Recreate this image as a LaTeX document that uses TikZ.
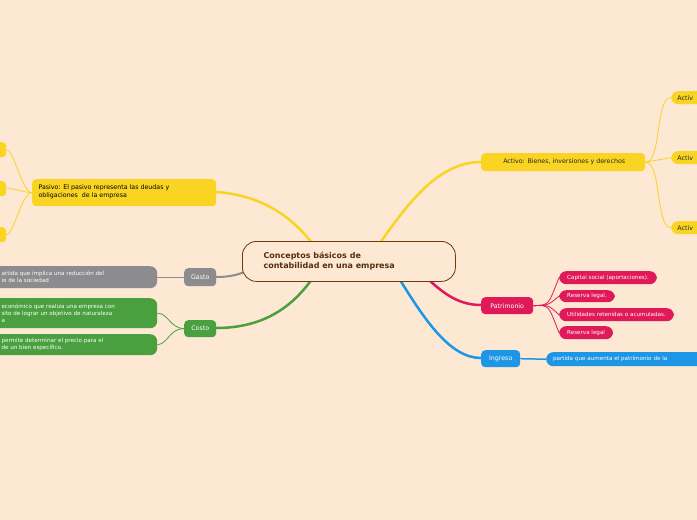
\documentclass[tikz,border=0pt]{standalone}
\usepackage{fontspec}
\setmainfont{DejaVu Sans}
\begin{document}
\begin{tikzpicture}[x=1pt,y=-1pt,
 base/.style={rounded corners=4pt,inner sep=0pt,font=\fontsize{6.3}{7.6}\selectfont,align=left},
 yel/.style={base,fill=yellowN,text=black!85},
 gry/.style={base,fill=grayN,text=white},
 grn/.style={base,fill=greenN,text=white},
 pnk/.style={base,fill=pinkN,text=white},
 blu/.style={base,fill=blueN,text=white},
 pill/.style={rounded corners=7pt},
 conn/.style={line width=0.8pt}]
\definecolor{bgN}{HTML}{FDE8D3}
\definecolor{yellowN}{HTML}{F9D423}
\definecolor{grayN}{HTML}{8C8B8D}
\definecolor{greenN}{HTML}{4AA03F}
\definecolor{pinkN}{HTML}{E0195A}
\definecolor{blueN}{HTML}{1E96E6}
\definecolor{brownN}{HTML}{6B3A12}
\fill[bgN] (0,0) rectangle (697,520);
\useasboundingbox (0,0) rectangle (697,520);
\clip (0,0) rectangle (697,520);
% main connectors
\draw[yellowN,line width=2.5pt] (312,243) .. controls (290,215) and (260,195) .. (216,192);
\draw[greenN,line width=2.5pt] (312,279) .. controls (290,310) and (260,328) .. (216,328);
\draw[grayN,line width=2pt] (244,272) .. controls (235,276) and (225,277) .. (216,277);
\draw[yellowN,line width=2.5pt] (380,243) .. controls (410,200) and (440,162) .. (481,162);
\draw[pinkN,line width=2.5pt] (428,279) .. controls (445,295) and (460,305) .. (481,305);
\draw[blueN,line width=2.5pt] (400,280) .. controls (425,320) and (450,358) .. (481,358);
% center
\node[draw=brownN,line width=0.8pt,fill=bgN,rounded corners=14pt,minimum width=213pt,minimum height=40pt,anchor=north west,inner sep=0pt] (c) at (242,241) {};
\node[anchor=west,align=left,font=\fontsize{8}{9.5}\selectfont\bfseries,text=brownN!80!black] (ct) at (260,261) {Conceptos básicos de\\contabilidad en una empresa};
% Pasivo
\node[yel,minimum width=184pt,minimum height=27pt,anchor=north west] (pas) at (32,179) {};
\node[anchor=west,font=\fontsize{6.3}{7.6}\selectfont,align=left] (past) at (35,192) {Pasivo: El pasivo representa las deudas y\\obligaciones\ \ de la empresa};
\node[yel,minimum width=16pt,minimum height=15pt,anchor=north west] (p1) at (-10,142) {};
\node[yel,minimum width=16pt,minimum height=15pt,anchor=north west] (p2) at (-10,181) {};
\node[yel,minimum width=16pt,minimum height=15pt,anchor=north west] (p3) at (-10,227) {};
\draw[yellowN,conn] (pas.west) .. controls (22,192) and (14,150) .. (p1.east);
\draw[yellowN,conn] (pas.west) .. controls (22,192) and (14,188) .. (p2.east);
\draw[yellowN,conn] (pas.west) .. controls (22,192) and (14,234) .. (p3.east);
% Gasto
\node[gry,minimum width=32pt,minimum height=18pt,anchor=north west] (gas) at (184,268) {Gasto};
\node[gry,pill,minimum width=167pt,minimum height=22pt,anchor=north west] (g1) at (-10,266) {};
\node[anchor=west,font=\fontsize{5.6}{7}\selectfont,text=white,align=left] at (-2,277) {artida que implica una reducción del\\io de la sociedad};
\draw[grayN,conn] (g1.east) -- (gas.west);
% Costo
\node[grn,minimum width=32pt,minimum height=17pt,anchor=north west] (cos) at (184,320) {Costo};
\node[grn,pill,minimum width=167pt,minimum height=30pt,anchor=north west] (k1) at (-10,298) {};
\node[anchor=west,font=\fontsize{5.6}{7}\selectfont,text=white,align=left] at (-2,313) {económico que realiza una empresa con\\sito de lograr un objetivo de naturaleza\\a};
\node[grn,pill,minimum width=167pt,minimum height=21pt,anchor=north west] (k2) at (-10,334) {};
\node[anchor=west,font=\fontsize{5.6}{7}\selectfont,text=white,align=left] at (-2,344.5) {permite determinar el precio para el\\de un bien específico.};
\draw[greenN,conn] (cos.west) .. controls (170,328) and (168,313) .. (k1.east);
\draw[greenN,conn] (cos.west) .. controls (170,328) and (168,344) .. (k2.east);
% Activo
\node[yel,minimum width=164pt,minimum height=18pt,anchor=north west] (act) at (481,153) {\ Activo: Bienes, inversiones y derechos};
\node[yel,pill,minimum width=40pt,minimum height=13pt,anchor=north west,text width=36pt] (a1) at (671,91) {\ \ Activ};
\node[yel,pill,minimum width=40pt,minimum height=13pt,anchor=north west,text width=36pt] (a2) at (671,151) {\ \ Activ};
\node[yel,pill,minimum width=40pt,minimum height=13pt,anchor=north west,text width=36pt] (a3) at (671,221) {\ \ Activ};
\draw[yellowN,conn] (act.east) .. controls (662,162) and (655,97) .. (a1.west);
\draw[yellowN,conn] (act.east) -- (a2.west);
\draw[yellowN,conn] (act.east) .. controls (662,162) and (655,227) .. (a3.west);
% Patrimonio
\node[pnk,minimum width=52pt,minimum height=17pt,anchor=north west] (pat) at (481,297) {Patrimonio};
\node[pnk,pill,font=\fontsize{5.6}{7}\selectfont,minimum height=13pt,anchor=north west,inner xsep=8pt] (t1) at (559,271) {Capital social (aportaciones).};
\node[pnk,pill,font=\fontsize{5.6}{7}\selectfont,minimum height=12pt,anchor=north west,inner xsep=8pt] (t2) at (559,290) {Reserva legal.};
\node[pnk,pill,font=\fontsize{5.6}{7}\selectfont,minimum height=13pt,anchor=north west,inner xsep=8pt] (t3) at (559,308) {Utilidades retenidas o acumuladas.};
\node[pnk,pill,font=\fontsize{5.6}{7}\selectfont,minimum height=13pt,anchor=north west,inner xsep=8pt] (t4) at (559,326) {Reserva legal};
\foreach \t in {t1,t2,t3,t4}{\draw[pinkN,conn] (pat.east) .. controls (550,305) and (548,305) .. (\t.west);}
% Ingreso
\node[blu,minimum width=39pt,minimum height=17pt,anchor=north west] (ing) at (481,350) {Ingreso};
\node[blu,pill,font=\fontsize{5.6}{7}\selectfont,minimum width=160pt,minimum height=14pt,anchor=north west,text width=150pt] (i1) at (546,352) {\ partida que aumenta el patrimonio de la};
\draw[blueN,line width=1.5pt] (ing.east) -- (i1.west);
\end{tikzpicture}
\end{document}
